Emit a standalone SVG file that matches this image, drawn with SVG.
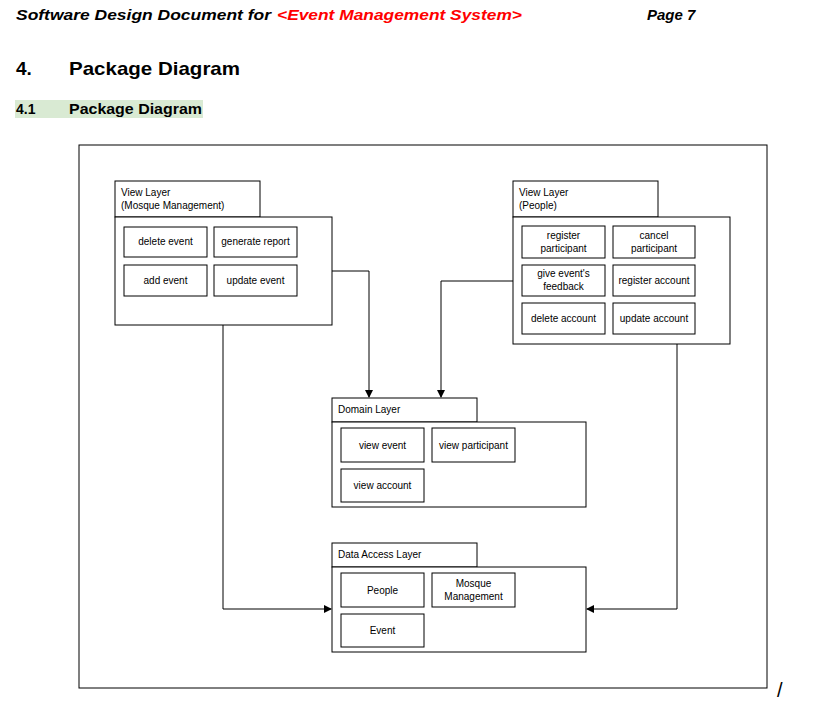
<svg xmlns="http://www.w3.org/2000/svg" width="814" height="721" viewBox="0 0 814 721">
<style>
.b{fill:#fff;stroke:#000;stroke-width:1}
.t{font-family:"Liberation Sans",Arial,sans-serif;font-size:10px;fill:#000}
.c{text-anchor:middle}
.l{fill:none;stroke:#000;stroke-width:1}
</style>
<defs><marker id="a" markerWidth="8" markerHeight="8" refX="7" refY="4" orient="auto" markerUnits="userSpaceOnUse"><path d="M0,0 L8,4 L0,8 Z" fill="#000"/></marker></defs>
<rect width="814" height="721" fill="#fff"/>
<text x="16" y="20" font-family="'Liberation Sans',Arial,sans-serif" font-size="15" font-style="italic" font-weight="bold" textLength="255" lengthAdjust="spacingAndGlyphs">Software Design Document for</text>
<text x="277" y="20" font-family="'Liberation Sans',Arial,sans-serif" font-size="15" font-style="italic" font-weight="bold" fill="#ff0000" textLength="245" lengthAdjust="spacingAndGlyphs">&lt;Event Management System&gt;</text>
<text x="647" y="20" font-family="'Liberation Sans',Arial,sans-serif" font-size="15" font-style="italic" font-weight="bold">Page 7</text>
<text x="16" y="75" font-family="'Liberation Sans',Arial,sans-serif" font-size="19" font-weight="bold">4.</text>
<text x="69" y="75" font-family="'Liberation Sans',Arial,sans-serif" font-size="19" font-weight="bold" textLength="171" lengthAdjust="spacingAndGlyphs">Package Diagram</text>
<rect x="15" y="100" width="188" height="18" fill="#d9ead3"/>
<text x="16" y="114" font-family="'Liberation Sans',Arial,sans-serif" font-size="14" font-weight="bold">4.1</text>
<text x="69" y="114" font-family="'Liberation Sans',Arial,sans-serif" font-size="14" font-weight="bold" textLength="133" lengthAdjust="spacingAndGlyphs">Package Diagram</text>
<rect x="79" y="145" width="688" height="543" class="b"/>
<text x="777" y="697" font-family="'Liberation Sans',Arial,sans-serif" font-size="20">/</text>
<g id="connectors">
<path class="l" d="M332,271 H369 V397" marker-end="url(#a)"/>
<path class="l" d="M513,281 H441 V397" marker-end="url(#a)"/>
<path class="l" d="M223,325 V609 H331" marker-end="url(#a)"/>
<path class="l" d="M677,344 V609 H587" marker-end="url(#a)"/>
</g>
<g id="viewMosque">
<rect x="115" y="181" width="145" height="36" class="b"/>
<text x="121" y="196" class="t">View Layer</text>
<text x="121" y="209" class="t">(Mosque Management)</text>
<rect x="115" y="217" width="217" height="108" class="b"/>
<rect x="124" y="227" width="83" height="30" class="b"/><text x="165.5" y="245" class="t c">delete event</text>
<rect x="214" y="227" width="83" height="30" class="b"/><text x="255.5" y="245" class="t c">generate report</text>
<rect x="124" y="265" width="83" height="31" class="b"/><text x="165.5" y="284" class="t c">add event</text>
<rect x="214" y="265" width="83" height="31" class="b"/><text x="255.5" y="284" class="t c">update event</text>
</g>
<g id="viewPeople">
<rect x="513" y="181" width="145" height="36" class="b"/>
<text x="519" y="196" class="t">View Layer</text>
<text x="519" y="209" class="t">(People)</text>
<rect x="513" y="217" width="217" height="127" class="b"/>
<rect x="522" y="226" width="83" height="32" class="b"/><text x="563.5" y="239" class="t c">register</text><text x="563.5" y="252" class="t c">participant</text>
<rect x="613" y="226" width="82" height="32" class="b"/><text x="654" y="239" class="t c">cancel</text><text x="654" y="252" class="t c">participant</text>
<rect x="522" y="265" width="83" height="31" class="b"/><text x="563.5" y="277" class="t c">give event's</text><text x="563.5" y="290" class="t c">feedback</text>
<rect x="613" y="265" width="82" height="31" class="b"/><text x="654" y="284" class="t c">register account</text>
<rect x="522" y="303" width="83" height="31" class="b"/><text x="563.5" y="322" class="t c">delete account</text>
<rect x="613" y="303" width="82" height="31" class="b"/><text x="654" y="322" class="t c">update account</text>
</g>
<g id="domain">
<rect x="332" y="398" width="145" height="24" class="b"/>
<text x="338" y="413" class="t">Domain Layer</text>
<rect x="332" y="422" width="254" height="85" class="b"/>
<rect x="341" y="428" width="83" height="34" class="b"/><text x="382.5" y="449" class="t c">view event</text>
<rect x="432" y="428" width="83" height="34" class="b"/><text x="473.5" y="449" class="t c">view participant</text>
<rect x="341" y="469" width="83" height="33" class="b"/><text x="382.5" y="489" class="t c">view account</text>
</g>
<g id="dataAccess">
<rect x="332" y="543" width="145" height="24" class="b"/>
<text x="338" y="558" class="t">Data Access Layer</text>
<rect x="332" y="567" width="254" height="85" class="b"/>
<rect x="341" y="573" width="83" height="34" class="b"/><text x="382.5" y="594" class="t c">People</text>
<rect x="432" y="573" width="83" height="34" class="b"/><text x="473.5" y="587" class="t c">Mosque</text><text x="473.5" y="600" class="t c">Management</text>
<rect x="341" y="614" width="83" height="33" class="b"/><text x="382.5" y="634" class="t c">Event</text>
</g>
</svg>
